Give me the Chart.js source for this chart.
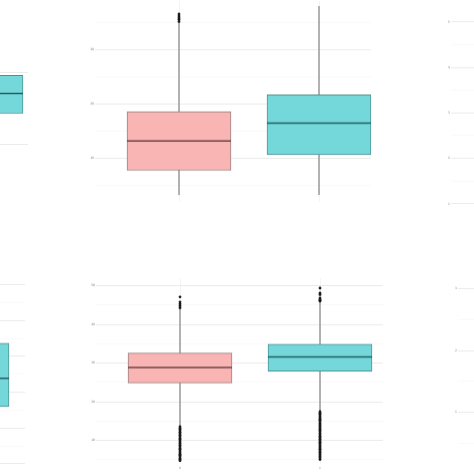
<!DOCTYPE html>
<html lang="en">
<head>
<meta charset="UTF-8" />
<title>Boxplots</title>
<script src="https://cdn.jsdelivr.net/npm/chart.js"></script>
<style>
  html, body { margin: 0; padding: 0; background: #fff; }
  body { width: 474px; height: 474px; position: relative; overflow: hidden; }
  .clip { position: absolute; overflow: hidden; }
  .holder { position: absolute; }
</style>
</head>
<body>
<script>
// x labels of the two groups (too small to read in the source)
const groups = ['0', '1'];

// boxes: [lower whisker, q1, median, q3, upper whisker]
const topPink = [3.3, 7.8, 13.2, 18.6, 34.8];
const topCyan = [3.3, 10.7, 16.5, 21.7, 38.0];
const topPinkOut = [35.2, 35.6, 35.9, 36.2, 36.6];

const botPink = [13.9, 24.9, 28.9, 32.6, 44.0];
const botCyan = [17.8, 27.9, 31.6, 34.9, 45.6];
const botPinkOut = [44.3, 44.8, 45.3, 45.8, 47.1,
  13.6, 13.2, 12.9, 12.5, 12.1, 11.8, 11.4, 11.0, 10.6, 10.3, 9.9, 9.5, 9.2,
  8.8, 8.4, 8.0, 7.7, 7.3, 6.9, 6.5, 6.2, 5.8, 5.4, 5.1, 4.8];
const botCyanOut = [46.0, 46.2, 46.4, 46.8, 47.7, 48.1, 49.4,
  17.5, 17.1, 16.8, 16.4, 16.0, 15.6, 15.3, 14.9, 14.5, 14.1, 13.8, 13.4, 13.0,
  12.6, 12.3, 11.9, 11.5, 11.1, 10.8, 10.4, 10.0, 9.6, 9.3, 8.9, 8.5, 8.1, 7.8,
  7.4, 7.0, 6.6, 6.3, 5.9, 5.5, 5.1];

// partly visible neighbour panels
const leftTopCyan = [null, 1.43, 1.71, 1.96, null];
const leftBotCyan = [null, 2.60, 3.39, 4.37, null];

// y ticks (major labelled, minor only gridlines)
const topTicks = [10, 20, 30], topMinor = [5, 15, 25, 35];
const botTicks = [10, 20, 30, 40, 50], botMinor = [5, 15, 25, 35, 45];
const leftTopTicks = [1, 2], leftTopMinor = [];
const leftBotTicks = [1, 2, 3, 4, 5, 6], leftBotMinor = [1.5, 2.5, 3.5, 4.5, 5.5];
const rightTopTicks = [1, 2, 3, 4, 5], rightTopMinor = [1.5, 2.5, 3.5, 4.5];
const rightBotTicks = [1, 2, 3], rightBotMinor = [0.5, 1.5, 2.5];

const PINK = { fill: '#F9B5B3', line: '#9a8080', mid: '#6b4444' };
const CYAN = { fill: '#74D8DB', line: '#4e9294', mid: '#235f61' };

const medianPlugin = {
  id: 'medians',
  afterDatasetsDraw(chart) {
    const ctx = chart.ctx, a = chart.chartArea, y = chart.scales.y;
    chart.data.datasets.forEach((ds, di) => {
      if (!ds.medians) return;
      const meta = chart.getDatasetMeta(di);
      ctx.save();
      ctx.beginPath();
      ctx.rect(a.left, a.top, a.right - a.left, a.bottom - a.top);
      ctx.clip();
      meta.data.forEach((el, i) => {
        const py = y.getPixelForValue(ds.medians[i]);
        ctx.strokeStyle = ds.medianColors[i];
        ctx.lineWidth = 1.5;
        ctx.beginPath();
        ctx.moveTo(el.x - el.width / 2, py);
        ctx.lineTo(el.x + el.width / 2, py);
        ctx.stroke();
      });
      ctx.restore();
    });
  }
};

function makePanel(p) {
  const clip = document.createElement('div');
  clip.className = 'clip';
  Object.assign(clip.style, { left: p.clip[0] + 'px', top: p.clip[1] + 'px',
    width: p.clip[2] + 'px', height: p.clip[3] + 'px' });
  const holder = document.createElement('div');
  holder.className = 'holder';
  const yW = 5, xH = p.xLabels ? 9 : 0;
  let hx = p.area[0] - p.clip[0] - yW, hy = p.area[1] - p.clip[1];
  let hw = p.area[2] - p.area[0] + yW, hh = p.area[3] - p.area[1] + xH;
  Object.assign(holder.style, { left: hx + 'px', top: hy + 'px', width: hw + 'px', height: hh + 'px' });
  const canvas = document.createElement('canvas');
  holder.appendChild(canvas);
  clip.appendChild(holder);
  document.body.appendChild(clip);

  const boxes = p.boxes || [];
  const major = p.major, all = p.major.concat(p.minor).sort((a, b) => a - b);
  const withWhisk = boxes.filter(b => b.v[0] !== null);
  const outliers = [];
  boxes.forEach(b => (b.out || []).forEach(v => outliers.push({ x: b.x, y: v })));

  const chart = new Chart(canvas, {
    type: 'bar',
    data: {
      datasets: [
        {
          data: withWhisk.map(b => ({ x: b.x, y: [b.v[0], b.v[4]] })),
          backgroundColor: '#a3a3a3',
          barThickness: 1,
          grouped: false,
          order: 3
        },
        {
          data: boxes.map(b => ({ x: b.x, y: [b.v[1], b.v[3]] })),
          backgroundColor: boxes.map(b => b.c.fill),
          borderColor: boxes.map(b => b.c.line),
          borderWidth: 1,
          borderSkipped: false,
          barThickness: 104,
          grouped: false,
          order: 2,
          medians: boxes.map(b => b.v[2]),
          medianColors: boxes.map(b => b.c.mid)
        },
        {
          type: 'scatter',
          data: outliers,
          pointRadius: 1.4,
          pointBackgroundColor: '#1a1a1a',
          pointBorderWidth: 0,
          order: 1
        }
      ]
    },
    options: {
      responsive: true,
      maintainAspectRatio: false,
      animation: false,
      events: [],
      layout: { padding: 0 },
      plugins: { legend: { display: false }, tooltip: { enabled: false } },
      scales: {
        x: {
          type: 'linear', min: 0.4, max: 2.6, offset: false,
          afterBuildTicks: s => { s.ticks = [{ value: 1 }, { value: 2 }]; },
          afterFit: s => { s.height = xH; },
          border: { display: false },
          grid: { drawTicks: false, offset: false, color: '#f4f4f4' },
          ticks: {
            display: !!p.xLabels, padding: 3, autoSkip: false, maxRotation: 0,
            font: { size: 3, family: 'DejaVu Sans' }, color: '#8a8a8a',
            callback: v => groups[v - 1]
          }
        },
        y: {
          type: 'linear', min: p.yMin, max: p.yMax,
          afterBuildTicks: s => { s.ticks = all.map(v => ({ value: v })); },
          afterFit: s => { s.width = yW; },
          border: { display: false },
          grid: {
            drawTicks: false,
            color: c => (c.tick && major.includes(c.tick.value)) ? '#ebebeb' : '#f9f9f9'
          },
          ticks: {
            autoSkip: false, padding: 1,
            font: { size: 3, family: 'DejaVu Sans', lineHeight: 1 }, color: '#7a7a7a',
            callback: v => major.includes(v) ? String(v) : ''
          }
        }
      }
    },
    plugins: [medianPlugin]
  });

  // fit the plot area onto the wanted rectangle
  let a = chart.chartArea;
  hw += (p.area[2] - p.area[0]) - (a.right - a.left);
  hh += (p.area[3] - p.area[1]) - (a.bottom - a.top);
  holder.style.width = hw + 'px';
  holder.style.height = hh + 'px';
  chart.resize();
  a = chart.chartArea;
  holder.style.left = (p.area[0] - p.clip[0] - a.left) + 'px';
  holder.style.top = (p.area[1] - p.clip[1] - a.top) + 'px';
}

// top row
makePanel({ clip: [0, 0, 28, 240], area: [-253, 0, 55, 201.6], yMin: 0.2, yMax: 3,
  major: leftTopTicks, minor: leftTopMinor,
  boxes: [{ x: 2, v: leftTopCyan, c: CYAN }] });
makePanel({ clip: [80, 0, 291, 240], area: [95, 1.4, 403, 201.2], yMin: 2, yMax: 39,
  major: topTicks, minor: topMinor,
  boxes: [{ x: 1, v: topPink, c: PINK, out: topPinkOut }, { x: 2, v: topCyan, c: CYAN }] });
makePanel({ clip: [430, 0, 44, 240], area: [451, 1.6, 800, 221], yMin: 0.6, yMax: 5.45,
  major: rightTopTicks, minor: rightTopMinor, boxes: [] });

// bottom row
makePanel({ clip: [0, 260, 25, 214], area: [-267, 277.6, 41, 466.6], yMin: 0.9, yMax: 6.2,
  major: leftBotTicks, minor: leftBotMinor, xLabels: true,
  boxes: [{ x: 2, v: leftBotCyan, c: CYAN }] });
makePanel({ clip: [80, 260, 303, 214], area: [96, 278.3, 404, 463.1], yMin: 4, yMax: 52,
  major: botTicks, minor: botMinor, xLabels: true,
  boxes: [{ x: 1, v: botPink, c: PINK, out: botPinkOut }, { x: 2, v: botCyan, c: CYAN, out: botCyanOut }] });
makePanel({ clip: [440, 260, 34, 214], area: [458, 277.9, 800, 461.2], yMin: 0.2, yMax: 3.18,
  major: rightBotTicks, minor: rightBotMinor, xLabels: true, boxes: [] });
</script>
</body>
</html>
